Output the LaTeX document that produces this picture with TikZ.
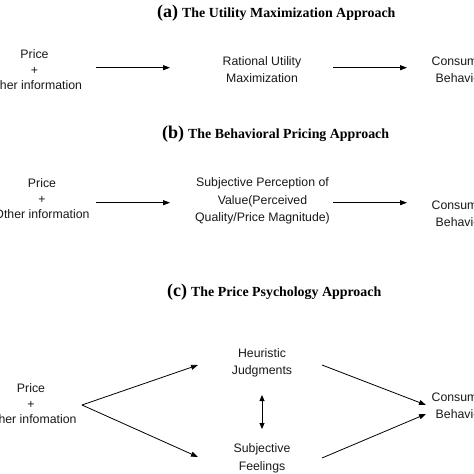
\documentclass[tikz,border=0pt]{standalone}
\usepackage{fontspec}
\setmainfont{Liberation Serif}
\setsansfont{Liberation Sans}
\usetikzlibrary{arrows.meta}
\tikzset{
  lbl/.style={font=\sffamily\fontsize{12.3}{17.5}\selectfont, align=center, inner sep=0pt, text=black!90},
  lft/.style={font=\sffamily\fontsize{12.3}{15.5}\selectfont, align=center, inner sep=0pt, text=black!90},
  ttl/.style={anchor=base west, inner sep=0pt, font=\fontsize{13.9}{16}\selectfont\bfseries},
  conn/.style={line width=0.8pt, -{Triangle[length=7pt,width=5pt]}},
  dconn/.style={line width=0.8pt, {Triangle[length=6pt,width=5pt]}-{Triangle[length=6pt,width=5pt]}}
}
\newcommand{\tlet}[1]{{\fontsize{18}{18}\selectfont(#1)}\hspace{4pt}}
\begin{document}
\begin{tikzpicture}[x=1pt,y=-1pt]
\useasboundingbox (0,0) rectangle (474,474);
\fill[white] (0,0) rectangle (474,474);
\clip (0,0) rectangle (474,474);
% (a)
\node[ttl] (ta) at (157,17.3) {\tlet{a}The Utility Maximization Approach};
\node[lft] (a1) at (34.5,70) {Price\\+\\Other information};
\node[lbl] (a2) at (262,69.5) {Rational Utility\\Maximization};
\node[lbl] (a3) at (460,70) {Consumer\\Behavior};
\coordinate (a1s) at (96,67.7); \coordinate (a1e) at (170,67.7);
\coordinate (a2s) at (333,67.7); \coordinate (a2e) at (407,67.7);
\draw[conn] (a1s) -- (a1e);
\draw[conn] (a2s) -- (a2e);
% (b)
\node[ttl] (tb) at (162,138.3) {\tlet{b}The Behavioral Pricing Approach};
\node[lft] (b1) at (42,199) {Price\\+\\Other information};
\node[lbl] (b2) at (262.5,201) {Subjective Perception of\\Value(Perceived\\Quality/Price Magnitude)};
\node[lbl] (b3) at (460,214) {Consumer\\Behavior};
\coordinate (b1s) at (96,202.7); \coordinate (b1e) at (170,202.7);
\coordinate (b2s) at (333,202.7); \coordinate (b2e) at (407,202.7);
\draw[conn] (b1s) -- (b1e);
\draw[conn] (b2s) -- (b2e);
% (c)
\node[ttl] (tc) at (167,296.7) {\tlet{c}The Price Psychology Approach};
\node[lft] (c1) at (31,404) {Price\\+\\Other infomation};
\node[lbl] (c2) at (262,363) {Heuristic\\Judgments};
\node[lbl] (c3) at (262,458.5) {Subjective\\Feelings};
\node[lbl] (c4) at (460,406) {Consumer\\Behavior};
\coordinate (cv) at (82,405);
\coordinate (cu) at (198,365);
\coordinate (cl) at (198,457);
\coordinate (cds) at (262,395); \coordinate (cde) at (262,429);
\coordinate (cus) at (322,365); \coordinate (cue) at (426,405);
\coordinate (cls) at (322,458); \coordinate (cle) at (426,414);
\draw[conn] (cv) -- (cu);
\draw[conn] (cv) -- (cl);
\draw[dconn] (cds) -- (cde);
\draw[conn] (cus) -- (cue);
\draw[conn] (cls) -- (cle);
\end{tikzpicture}
\end{document}
